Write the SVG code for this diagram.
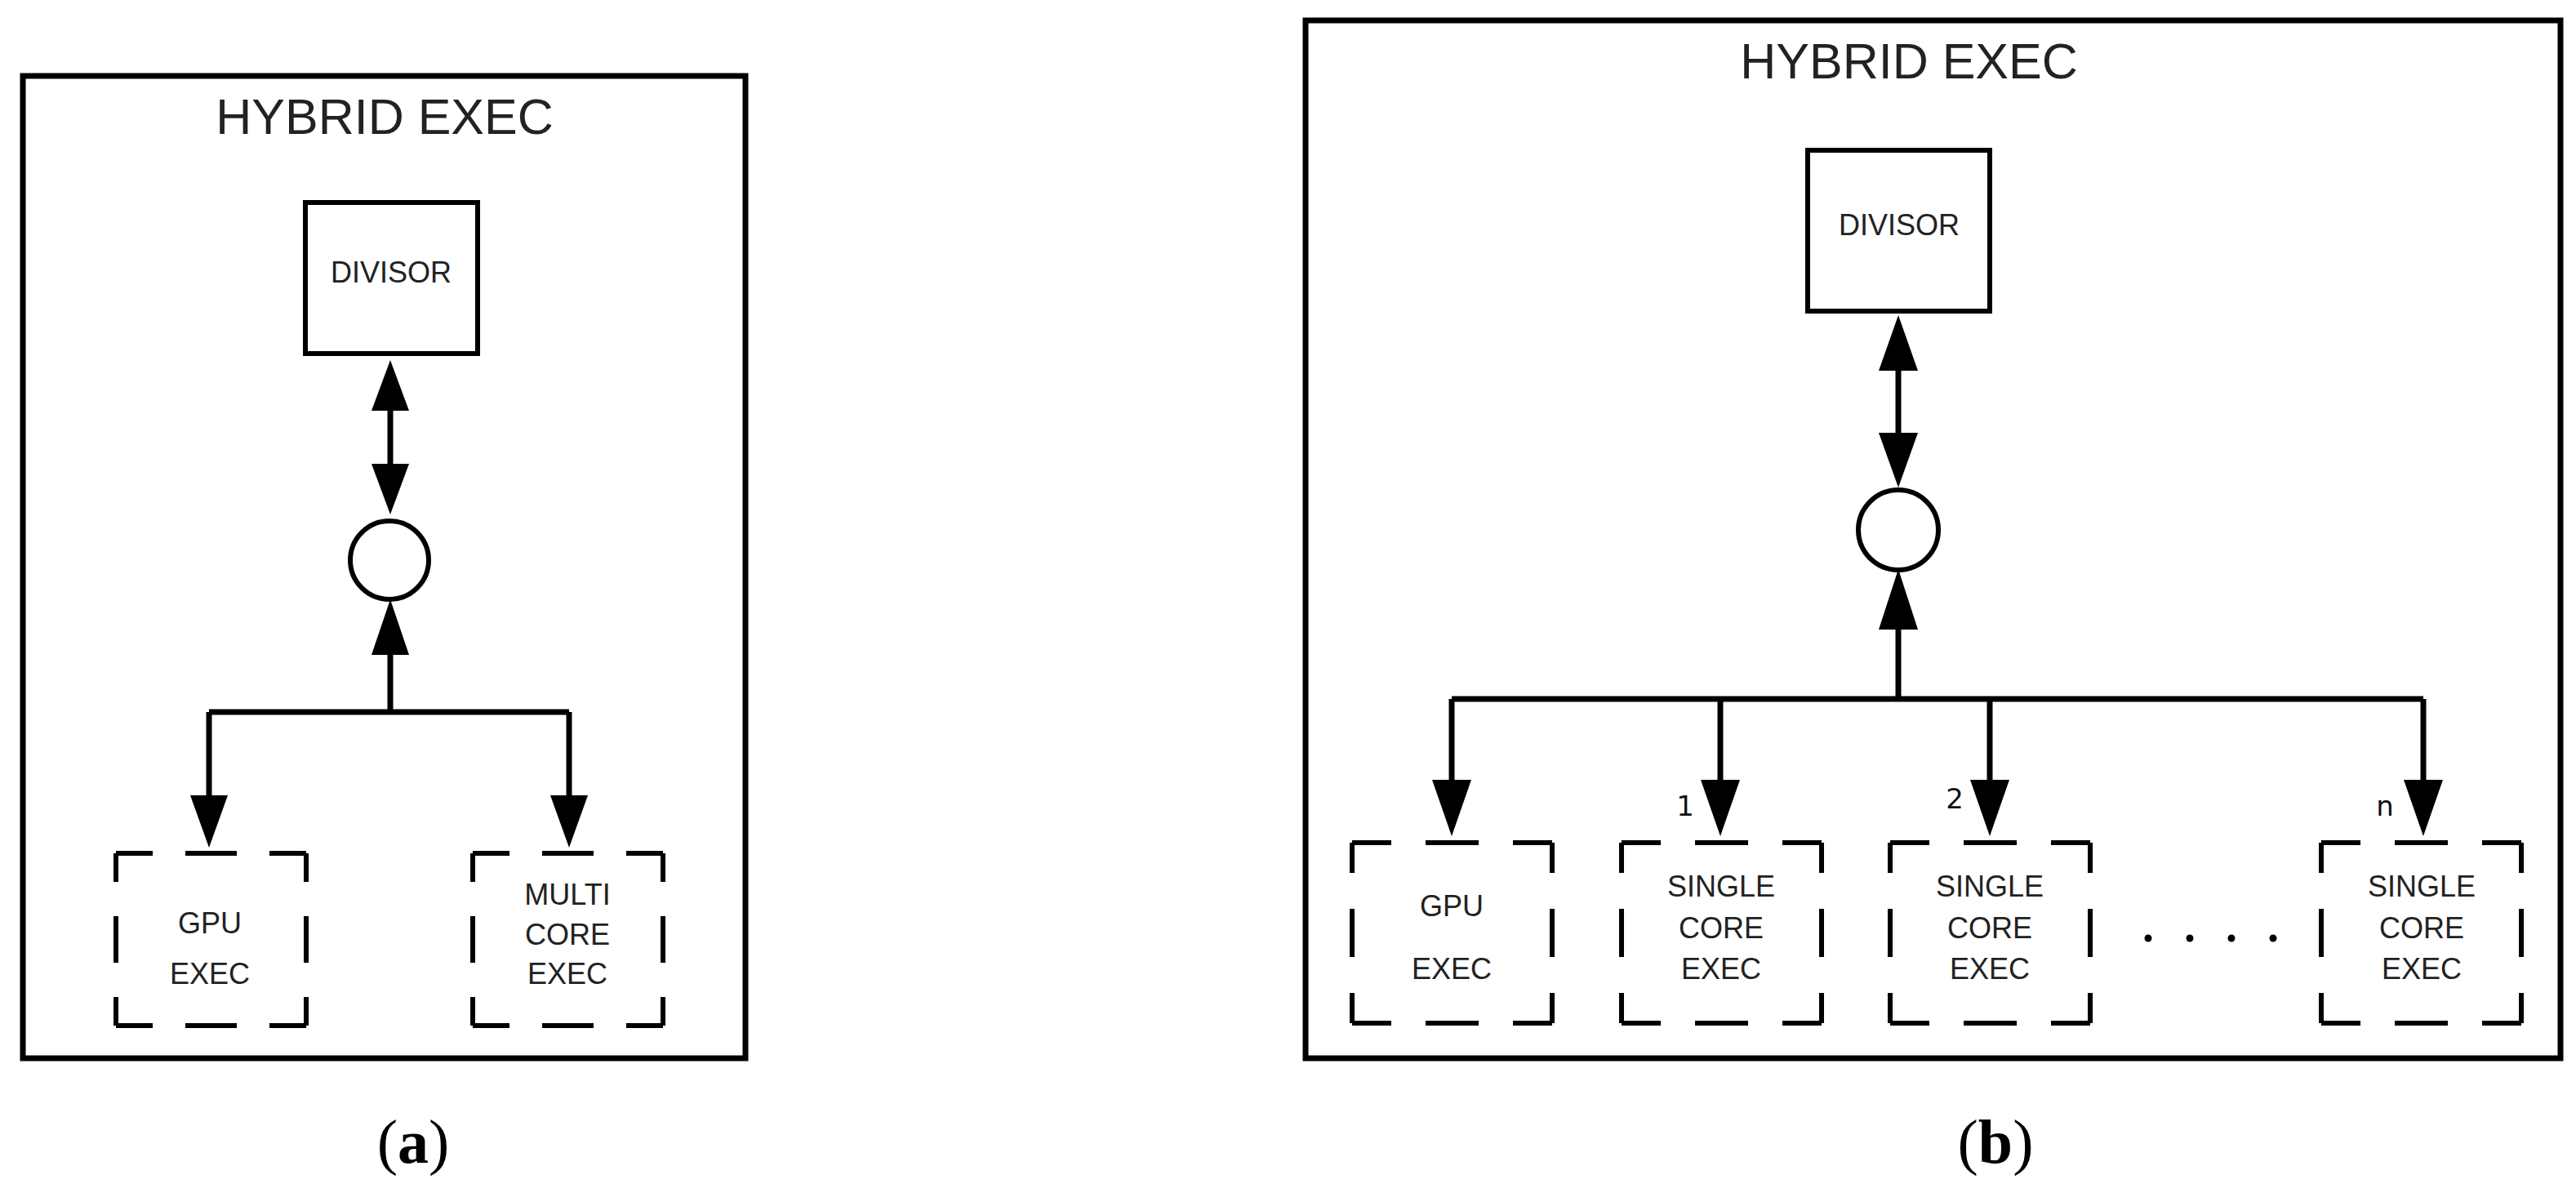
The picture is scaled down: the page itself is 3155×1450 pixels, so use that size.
<svg xmlns="http://www.w3.org/2000/svg" xmlns:xlink="http://www.w3.org/1999/xlink" width="3155" height="1450" viewBox="0 0 3155 1450">
<style>
.frame{fill:none;stroke:#000;stroke-width:7}
.box{fill:#fff;stroke:#000;stroke-width:6}
.ln{fill:none;stroke:#000;stroke-width:7}
.ah{fill:#000}
.dash{fill:none;stroke:#000;stroke-width:6}
.t{font-family:"Liberation Sans",Arial,sans-serif;fill:#222;text-anchor:middle}
.title{font-size:61px}
.lbl{font-size:36px}
.num{font-family:"DejaVu Sans",sans-serif;font-size:34px;fill:#111;text-anchor:middle}
.cap{font-family:"Liberation Serif","Times New Roman",serif;font-size:76px;fill:#000;text-anchor:middle}
</style>
<defs>
<g id="dbA">
<path class="dash" d="M0,0H233" stroke-dasharray="45 40 63 40 45"/>
<path class="dash" d="M0,211H233" stroke-dasharray="45 40 63 40 45"/>
<path class="dash" d="M0,0V211" stroke-dasharray="35 42 57 42 35"/>
<path class="dash" d="M233,0V211" stroke-dasharray="35 42 57 42 35"/>
</g>
<g id="dbB">
<path class="dash" d="M0,0H245" stroke-dasharray="48 42 65 42 48"/>
<path class="dash" d="M0,221H245" stroke-dasharray="48 42 65 42 48"/>
<path class="dash" d="M0,0V221" stroke-dasharray="37 44 59 44 37"/>
<path class="dash" d="M245,0V221" stroke-dasharray="37 44 59 44 37"/>
</g>
</defs>

<!-- Panel (a) -->
<g id="panelA">
<rect class="frame" x="28" y="93" width="885" height="1203"/>
<text class="t title" x="471" y="164">HYBRID EXEC</text>
</g>
<g id="a-divisor">
<rect class="box" x="374" y="248" width="211" height="185"/>
<text class="t lbl" x="479" y="346">DIVISOR</text>
</g>
<g id="a-junction"><circle class="box" cx="477" cy="686" r="48"/></g>
<g id="a-gpu">
<use xlink:href="#dbA" x="142" y="1045"/>
<text class="t lbl" x="257" y="1143">GPU</text>
<text class="t lbl" x="257" y="1205">EXEC</text>
</g>
<g id="a-multi">
<use xlink:href="#dbA" x="579" y="1045"/>
<text class="t lbl" x="695" y="1108">MULTI</text>
<text class="t lbl" x="695" y="1157">CORE</text>
<text class="t lbl" x="695" y="1205">EXEC</text>
</g>
<text class="cap" x="506" y="1424">(<tspan font-weight="bold">a</tspan>)</text>

<g id="a-connectors">
<path class="ln" d="M478,495V575"/>
<polygon class="ah" points="478,441 455,503 501,503"/>
<polygon class="ah" points="478,630 455,568 501,568"/>
<path class="ln" d="M478,795V872M256,872H697M256,872V980M697,872V980"/>
<polygon class="ah" points="478,734 455,802 501,802"/>
<polygon class="ah" points="256,1038 233,974 279,974"/>
<polygon class="ah" points="697,1038 674,974 720,974"/>
</g>

<!-- Panel (b) -->
<g id="panelB">
<rect class="frame" x="1599" y="25" width="1537" height="1271"/>
<text class="t title" x="2338" y="96">HYBRID EXEC</text>
</g>
<g id="b-divisor">
<rect class="box" x="2214" y="184" width="223" height="197"/>
<text class="t lbl" x="2326" y="288">DIVISOR</text>
</g>
<g id="b-junction"><circle class="box" cx="2325" cy="649" r="49"/></g>
<g id="b-gpu">
<use xlink:href="#dbB" x="1656" y="1032"/>
<text class="t lbl" x="1778" y="1122">GPU</text>
<text class="t lbl" x="1778" y="1199">EXEC</text>
</g>
<g id="b-single1">
<use xlink:href="#dbB" x="1986" y="1032"/>
<text class="t lbl" x="2108" y="1098">SINGLE</text>
<text class="t lbl" x="2108" y="1149">CORE</text>
<text class="t lbl" x="2108" y="1199">EXEC</text>
</g>
<g id="b-single2">
<use xlink:href="#dbB" x="2315" y="1032"/>
<text class="t lbl" x="2437" y="1098">SINGLE</text>
<text class="t lbl" x="2437" y="1149">CORE</text>
<text class="t lbl" x="2437" y="1199">EXEC</text>
</g>
<g id="b-singlen">
<use xlink:href="#dbB" x="2843" y="1032"/>
<text class="t lbl" x="2966" y="1098">SINGLE</text>
<text class="t lbl" x="2966" y="1149">CORE</text>
<text class="t lbl" x="2966" y="1199">EXEC</text>
</g>
<g id="b-dots">
<circle cx="2631" cy="1149" r="4.5"/><circle cx="2682" cy="1149" r="4.5"/><circle cx="2733" cy="1149" r="4.5"/><circle cx="2784" cy="1149" r="4.5"/>
</g>
<text class="cap" x="2444" y="1424">(<tspan font-weight="bold">b</tspan>)</text>

<g id="b-connectors">
<path class="ln" d="M2325,450V535"/>
<polygon class="ah" points="2325,386 2301,454 2349,454"/>
<polygon class="ah" points="2325,597 2301,530 2349,530"/>
<path class="ln" d="M2325,765V856M1778,856H2968M1778,856V960M2107,856V960M2437,856V960M2968,856V960"/>
<polygon class="ah" points="2325,697 2301,771 2349,771"/>
<polygon class="ah" points="1778,1024 1754,955 1802,955"/>
<polygon class="ah" points="2107,1024 2083,955 2131,955"/>
<polygon class="ah" points="2437,1024 2413,955 2461,955"/>
<polygon class="ah" points="2968,1024 2944,955 2992,955"/>
<text class="num" x="2064" y="999">1</text>
<text class="num" x="2394" y="990">2</text>
<text class="num" x="2921" y="999">n</text>
</g>
</svg>
